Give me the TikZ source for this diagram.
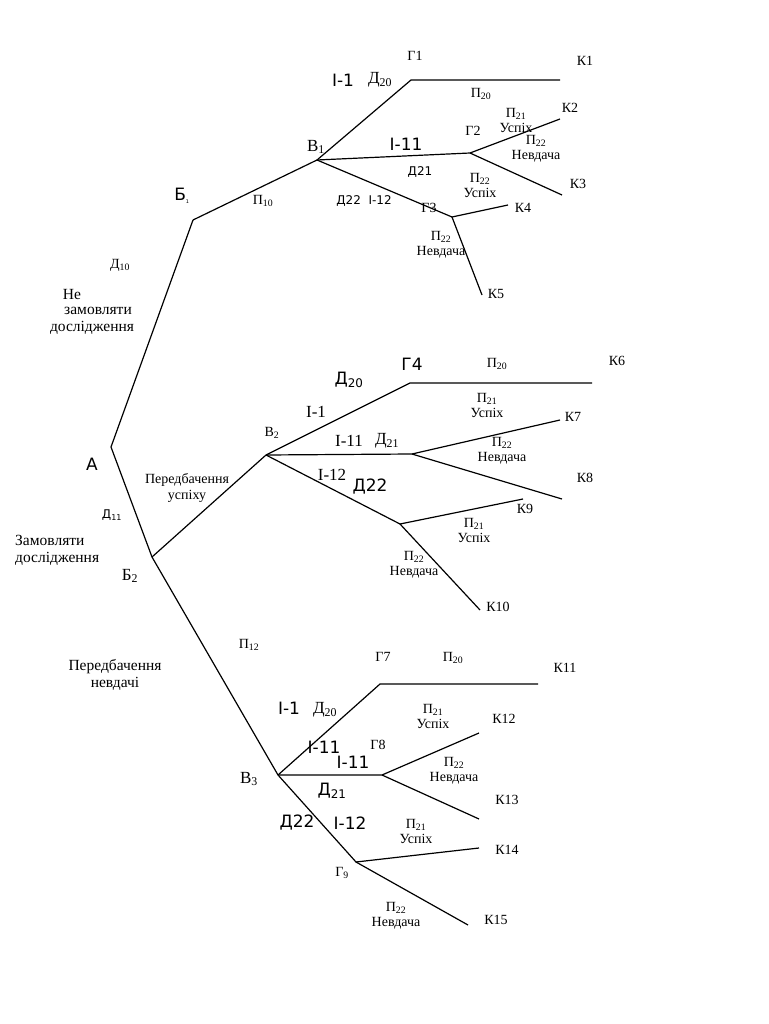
\documentclass[tikz,border=0pt]{standalone}
\usepackage{fontspec}
\setmainfont{Liberation Serif}
\setsansfont{DejaVu Sans}
\usetikzlibrary{positioning}
\newcommand{\idx}[1]{\textsubscript{#1}}
\tikzset{
  lbl/.style={font=\fontsize{14}{15}\selectfont, inner sep=0pt, align=center},
  sidelbl/.style={font=\fontsize{15.5}{17}\selectfont, inner sep=0pt, align=center},
  smalllbl/.style={font=\fontsize{14}{16}\selectfont, inner sep=0pt, align=center},
  big/.style={font=\fontsize{17}{19}\selectfont, inner sep=0pt},
  bigsans/.style={font=\sffamily\fontsize{17}{19}\selectfont, inner sep=0pt},
  smallsans/.style={font=\sffamily\fontsize{12}{14}\selectfont, inner sep=0pt},
  branch/.style={line width=1.2pt}
}
\begin{document}
\begin{tikzpicture}[x=1pt,y=-1pt]
        \useasboundingbox (0,0) rectangle (768,1024);
        % decision points
        \coordinate (A) at (111,447);
        \coordinate (B1) at (193,220);
        \coordinate (B2) at (152,557);
        \coordinate (V1) at (317,160);
        \coordinate (V2) at (266,455);
        \coordinate (V3) at (278,775);
        \coordinate (G1) at (411,80);
        \coordinate (G2) at (470,153);
        \coordinate (G3) at (452,217);
        \coordinate (G4) at (410,383);
        \coordinate (G5) at (412,454);
        \coordinate (G6) at (400,524);
        \coordinate (G7) at (380,684);
        \coordinate (G8) at (382,775);
        \coordinate (G9) at (356,862);
        % ends
        \coordinate (K1e) at (560,80);
        \coordinate (K2e) at (560,119);
        \coordinate (K3e) at (562,195);
        \coordinate (K4e) at (508,205);
        \coordinate (K5e) at (482,295);
        \coordinate (K6e) at (592,383);
        \coordinate (K7e) at (560,420);
        \coordinate (K8e) at (562,499);
        \coordinate (K9e) at (523,499);
        \coordinate (K10e) at (480,610);
        \coordinate (K11e) at (538,684);
        \coordinate (K12e) at (479,733);
        \coordinate (K13e) at (479,819);
        \coordinate (K14e) at (479,848);
        \coordinate (K15e) at (468,925);

        \draw[branch] (B1) -- (A) -- (B2);
        \draw[branch] (B1) -- (V1);
        \draw[branch] (B2) -- (V2);
        \draw[branch] (B2) -- (V3);
        \draw[branch] (V1) -- (G1) -- (K1e);
        \draw[branch] (V1) -- (G2) -- (K2e);
        \draw[branch] (G2) -- (K3e);
        \draw[branch] (V1) -- (G3) -- (K4e);
        \draw[branch] (G3) -- (K5e);
        \draw[branch] (V2) -- (G4) -- (K6e);
        \draw[branch] (V2) -- (G5) -- (K7e);
        \draw[branch] (G5) -- (K8e);
        \draw[branch] (V2) -- (G6) -- (K9e);
        \draw[branch] (G6) -- (K10e);
        \draw[branch] (V3) -- (G7) -- (K11e);
        \draw[branch] (V3) -- (G8) -- (K12e);
        \draw[branch] (G8) -- (K13e);
        \draw[branch] (V3) -- (G9) -- (K14e);
        \draw[branch] (G9) -- (K15e);

        % left part
        \node[bigsans] (lA) at (92,464) {А};
        \node[bigsans] (lB1) at (182,196) {Б\textsubscript{\tiny 1}};
        \node[big] (lB2) at (130,576) {Б\idx{2}};
        \node[lbl] (lP10) at (263,201) {П\idx{10}};
        \node[lbl] (lD10) at (120,265) {Д\idx{10}};
        \node[sidelbl] (lne1) at (72,294) {Не};
        \node[sidelbl] (lne2) at (98,311) {замовляти};
        \node[sidelbl] (lne3) at (92,328) {дослідження};
        \node[smalllbl] (lsucc) at (187,488) {Передбачення\\успіху};
        \node[smallsans] (lD11) at (112,515) {Д\idx{11}};
        \node[sidelbl, align=left, anchor=west] (lorder) at (15,550) {Замовляти\\дослідження};
        \node[sidelbl] (lfail) at (115,675) {Передбачення\\невдачі};
        \node[lbl] (lP12) at (249,645) {П\idx{12}};

        % top group
        \node[big] (lV1) at (316,147) {В\idx{1}};
        \node[lbl] (lG1) at (415,56) {Г1};
        \node[bigsans] (lI1a) at (343,80) {І-1};
        \node[big] (lD20a) at (380,80) {Д\idx{20}};
        \node[lbl] (lK1) at (585,61) {К1};
        \node[lbl] (lP20a) at (481,94) {П\idx{20}};
        \node[lbl] (lP21a) at (516,120) {П\idx{21}\\Успіх};
        \node[lbl] (lK2) at (570,108) {К2};
        \node[lbl] (lG2) at (473,131) {Г2};
        \node[lbl] (lP22a) at (536,149) {П\idx{22}\\Невдача};
        \node[bigsans] (lI11a) at (406,144) {І-11};
        \node[smallsans] (lD21a) at (420,172) {Д21};
        \node[lbl] (lP22b) at (480,185) {П\idx{22}\\Успіх};
        \node[lbl] (lK3) at (578,184) {К3};
        \node[smallsans] (lD22a) at (364,201) {Д22\ \ І-12};
        \node[lbl] (lG3) at (429,208) {Г3};
        \node[lbl] (lK4) at (523,208) {К4};
        \node[lbl] (lP22c) at (441,245) {П\idx{22}\\Невдача};
        \node[lbl] (lK5) at (496,294) {К5};

        % middle group
        \node[lbl] (lV2) at (272,433) {В\idx{2}};
        \node[bigsans] (lG4) at (412,364) {Г4};
        \node[lbl] (lP20b) at (497,364) {П\idx{20}};
        \node[lbl] (lK6) at (617,361) {К6};
        \node[bigsans] (lD20b) at (349,380) {Д\idx{20}};
        \node[big] (lI1b) at (316,412) {І-1};
        \node[lbl] (lP21b) at (487,405) {П\idx{21}\\Успіх};
        \node[lbl] (lK7) at (573,417) {К7};
        \node[big] (lI11b) at (349,441) {І-11};
        \node[big] (lD21b) at (387,441) {Д\idx{21}};
        \node[lbl] (lP22d) at (502,451) {П\idx{22}\\Невдача};
        \node[lbl] (lK8) at (585,478) {К8};
        \node[big] (lI12b) at (332,475) {І-12};
        \node[bigsans] (lD22b) at (370,487) {Д22};
        \node[lbl] (lK9) at (525,509) {К9};
        \node[lbl] (lP21c) at (474,530) {П\idx{21}\\Успіх};
        \node[lbl] (lP22e) at (414,565) {П\idx{22}\\Невдача};
        \node[lbl] (lK10) at (498,607) {К10};

        % bottom group
        \node[big] (lV3) at (249,779) {В\idx{3}};
        \node[lbl] (lG7) at (383,657) {Г7};
        \node[lbl] (lP20c) at (453,658) {П\idx{20}};
        \node[lbl] (lK11) at (565,668) {К11};
        \node[bigsans] (lI1c) at (289,708) {І-1};
        \node[big] (lD20c) at (325,710) {Д\idx{20}};
        \node[lbl] (lP21d) at (433,716) {П\idx{21}\\Успіх};
        \node[lbl] (lK12) at (504,719) {К12};
        \node[bigsans] (lI11c) at (324,747) {І-11};
        \node[lbl] (lG8) at (378,745) {Г8};
        \node[bigsans] (lI11d) at (353,762) {І-11};
        \node[lbl] (lP22f) at (454,771) {П\idx{22}\\Невдача};
        \node[bigsans] (lD21c) at (332,791) {Д\idx{21}};
        \node[lbl] (lK13) at (507,800) {К13};
        \node[bigsans] (lD22c) at (297,823) {Д22};
        \node[bigsans] (lI12c) at (350,823) {І-12};
        \node[lbl] (lP21e) at (416,831) {П\idx{21}\\Успіх};
        \node[lbl] (lK14) at (507,850) {К14};
        \node[lbl] (lG9) at (342,873) {Г\idx{9}};
        \node[lbl] (lP22g) at (396,916) {П\idx{22}\\Невдача};
        \node[lbl] (lK15) at (496,920) {К15};
      \end{tikzpicture}
\end{document}
